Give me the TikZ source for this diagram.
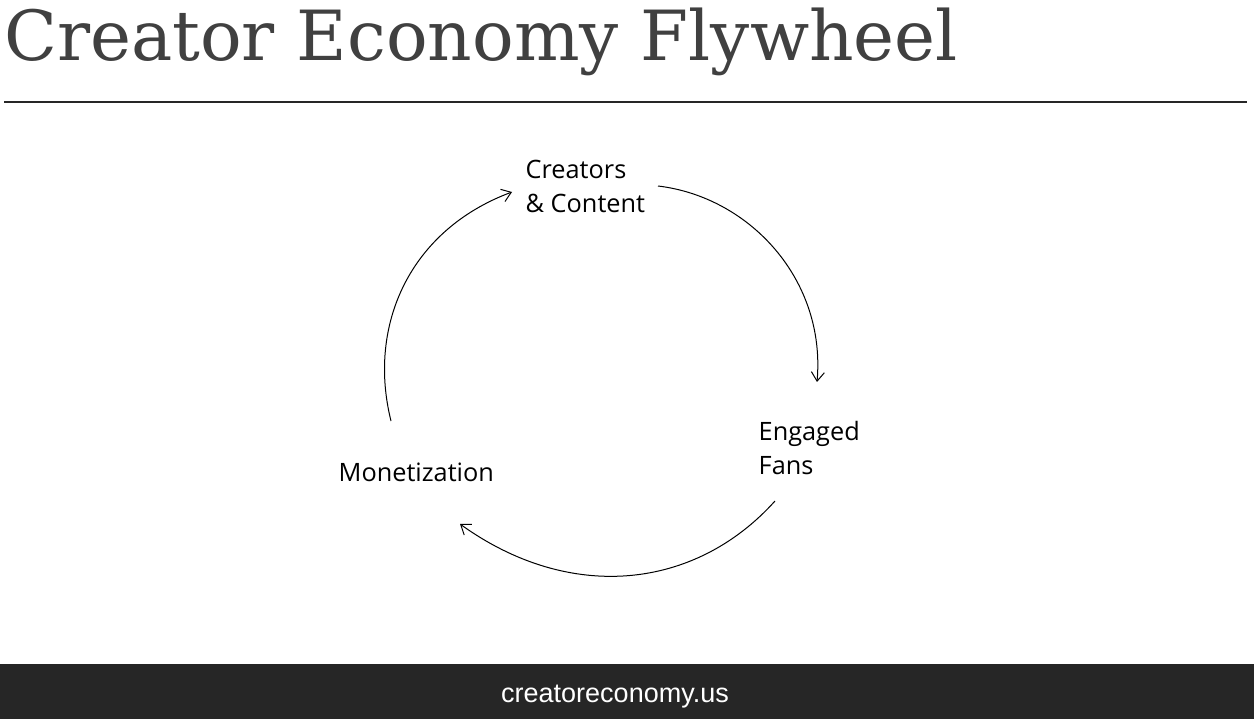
\documentclass[tikz,border=0pt]{standalone}
\usepackage{fontspec}
\setmainfont{DejaVu Serif}
\setsansfont{Open Sans}
\newfontfamily\footfont{Liberation Sans}
\usetikzlibrary{arrows.meta}

\tikzset{
    steplabel/.style={font=\sffamily\fontsize{25.3}{34}\selectfont, align=left, inner sep=0pt, anchor=north west, text=black},
    cycle/.style={-{Straight Barb[length=9pt,width=13pt]}, line width=1pt, black}
}

\begin{document}
\begin{tikzpicture}[x=1pt, y=-1pt]
    \useasboundingbox (0,0) rectangle (1254,719);
    % footer band
    \fill[black!85] (0,664) rectangle (1254,719);
    \node[text=white, font=\footfont\fontsize{27}{32}\selectfont] (footer) at (615,697) {creatoreconomy.us};
    % title and rule
    \node[anchor=base west, inner sep=0pt, text=black!75, font=\fontsize{69.2}{76}\selectfont] (title) at (4,61) {Creator Economy Flywheel};
    \coordinate (ruleL) at (4,102.5);
    \coordinate (ruleR) at (1247,102.5);
    \draw[line width=2pt, black!85] (ruleL) -- (ruleR);
    % labels
    \node[steplabel] (creators) at (525.5,159.5) {Creators\\\& Content};
    \node[steplabel] (fans) at (758.5,421.5) {Engaged\\Fans};
    \node[steplabel] (money) at (338.5,463) {Monetization};
    % arrow ends
    \coordinate (a1) at (658,186);
    \coordinate (a2) at (817,382);
    \coordinate (b1) at (775,501);
    \coordinate (b2) at (460,524);
    \coordinate (c1) at (391,421);
    \coordinate (c2) at (512,192);
    % arrows
    \draw[cycle] (a1) .. controls (750,197) and (826,280) .. (a2);
    \draw[cycle] (b1) .. controls (695,590) and (570,603) .. (b2);
    \draw[cycle] (c1) .. controls (367,325) and (410,230) .. (c2);
\end{tikzpicture}
\end{document}
